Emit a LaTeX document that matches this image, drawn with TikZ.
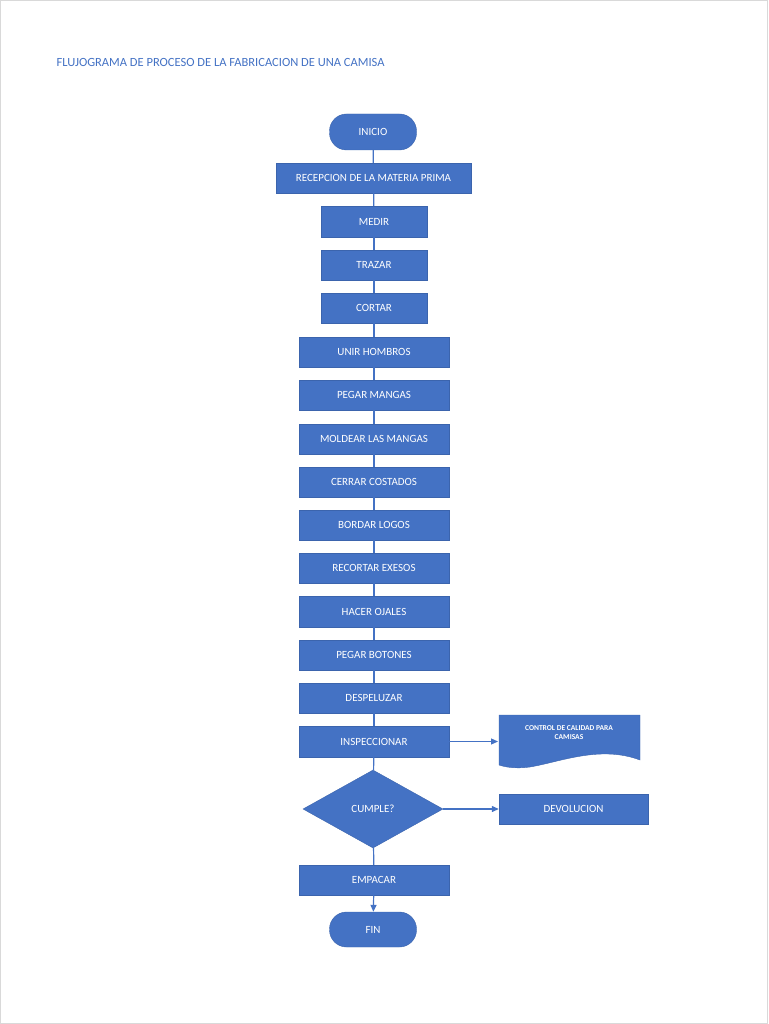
\documentclass[tikz,border=0pt]{standalone}
\usepackage{fontspec}
\setmainfont{Carlito}
\usetikzlibrary{shapes.geometric,arrows.meta}
\definecolor{bl}{HTML}{4472C4}
\definecolor{bd}{HTML}{3B64AD}
\begin{document}
\begin{tikzpicture}[x=1pt,y=-1pt,
 box/.style={draw=bd,fill=bl,text=white,font=\fontsize{11}{12}\selectfont,inner sep=0pt},
 term/.style={box,rounded corners=17pt},
 ln/.style={draw=bl,line width=1.2pt},
 arr/.style={ln,-{Triangle[length=7pt,width=6pt]}}]
\useasboundingbox (0,0) rectangle (768,1024);
\draw[gray!30] (0.5,0.5) rectangle (767.5,1023.5);
\node[anchor=west,text=bl,font=\fontsize{12.5}{14}\selectfont] (t) at (53,62) {FLUJOGRAMA DE PROCESO DE LA FABRICACION DE UNA CAMISA};
\newcommand\bx[6]{\node[box,minimum width=#3pt,minimum height=#4pt] (#1) at (#2,#5) {#6};}
\node[term,minimum width=87pt,minimum height=36pt] (n0) at (373,132) {INICIO};
\bx{n1}{373.5}{195}{30}{178}{RECEPCION DE LA MATERIA PRIMA}
\bx{n2}{374}{106}{31}{221.5}{MEDIR}
\bx{n3}{374}{106}{30}{265}{TRAZAR}
\bx{n4}{374}{106}{30}{308}{CORTAR}
\bx{n5}{374}{150}{30}{352}{UNIR HOMBROS}
\bx{n6}{374}{150}{30}{395}{PEGAR MANGAS}
\bx{n7}{374}{150}{30}{439}{MOLDEAR LAS MANGAS}
\bx{n8}{374}{150}{30}{482}{CERRAR COSTADOS}
\bx{n9}{374}{150}{30}{525}{BORDAR LOGOS}
\bx{n10}{374}{150}{30}{568}{RECORTAR EXESOS}
\bx{n11}{374}{150}{31}{611.5}{HACER OJALES}
\bx{n12}{374}{150}{30}{655}{PEGAR BOTONES}
\bx{n13}{374}{150}{30}{698}{DESPELUZAR}
\bx{n14}{374}{150}{31}{741.5}{INSPECCIONAR}
\node[box,diamond,aspect=1.8,minimum width=140pt,minimum height=78pt] (d) at (373,809) {CUMPLE?};
\bx{dev}{573.5}{149}{30}{809}{DEVOLUCION}
\bx{n15}{374}{150}{30}{880}{EMPACAR}
\node[term,minimum width=87pt,minimum height=35pt] (fin) at (373,929.5) {FIN};
\fill[bl,draw=bd] (499,715) -- (640,715) -- (640,760) .. controls (600,745) and (560,762) .. (530,767) .. controls (515,769) and (505,767) .. (499,765) -- cycle;
\node[text=white,font=\fontsize{7.5}{9}\selectfont\bfseries,align=center] (doc) at (569,733) {CONTROL DE CALIDAD PARA\\CAMISAS};
\coordinate (docin) at (498,741.5);
\foreach \a/\b in {n0/n1,n1/n2,n2/n3,n3/n4,n4/n5,n5/n6,n6/n7,n7/n8,n8/n9,n9/n10,n10/n11,n11/n12,n12/n13,n13/n14,n14/d,d/n15}
  \draw[ln] (\a) -- (\b);
\draw[arr] (n15) -- (fin);
\draw[arr] (n14.east) -- (docin);
\draw[arr] (d.east) -- (dev.west);
\end{tikzpicture}
\end{document}
